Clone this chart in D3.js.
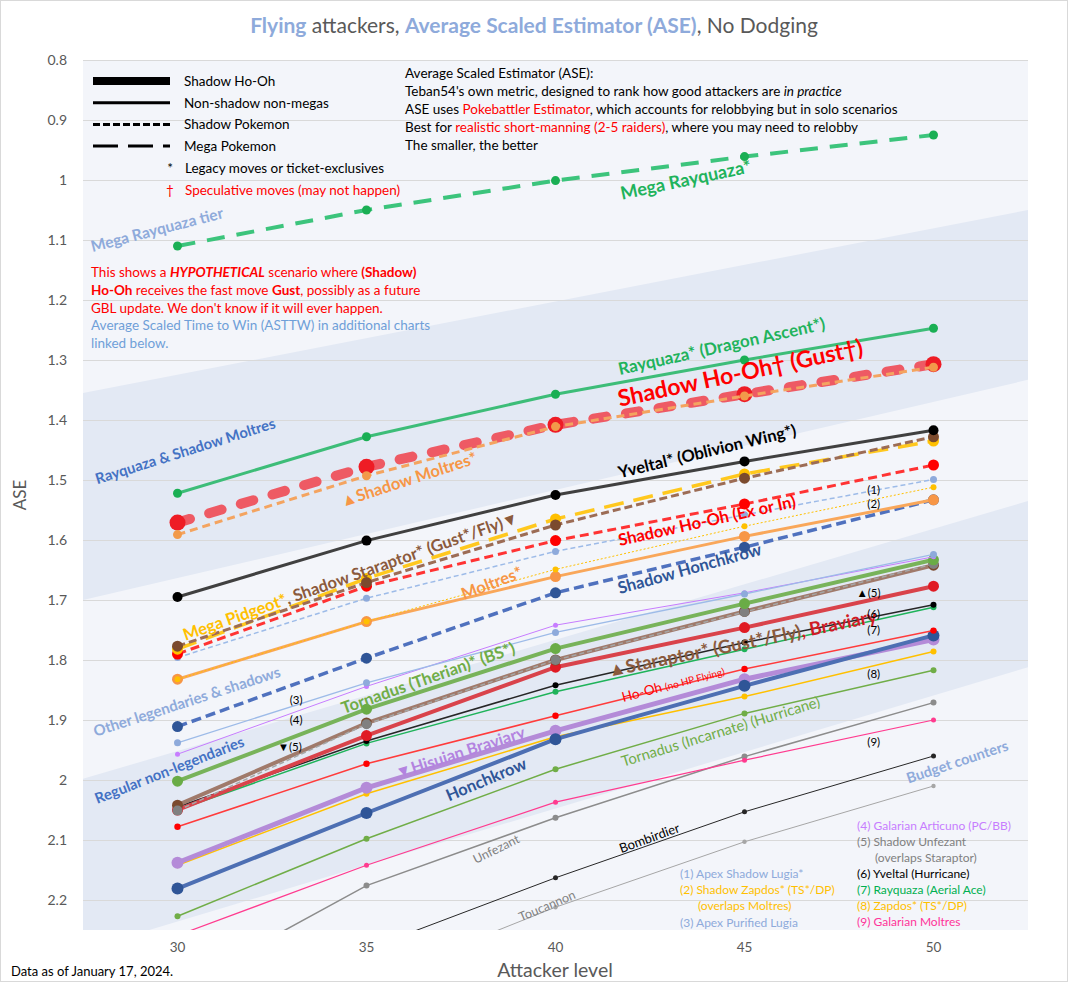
<!DOCTYPE html>
<html><head><meta charset="utf-8">
<script src="https://cdn.jsdelivr.net/npm/d3@7"></script>
<style>
body{margin:0;background:#fff}
svg{display:block;font-family:Lato,"Open Sans",sans-serif}
</style>
</head><body><div id="chart"></div>
<script>
// attacker levels on the x axis
const levels = [30, 35, 40, 45, 50];
const yTicks = [0.8,0.9,1,1.1,1.2,1.3,1.4,1.5,1.6,1.7,1.8,1.9,2,2.1,2.2];

// ASE per attacker at levels 30..50 (smaller is better)
const megaRayquaza      = [1.110, 1.050, 1.001, 0.961, 0.925];
const rayquazaDA        = [1.522, 1.428, 1.357, 1.300, 1.247];
const shadowHoOhGust    = [1.571, 1.478, 1.408, 1.357, 1.307];
const shadowMoltres     = [1.591, 1.493, 1.411, 1.360, 1.312];
const yveltalOW         = [1.695, 1.601, 1.525, 1.469, 1.417];
const megaPidgeot       = [1.782, 1.664, 1.565, 1.490, 1.435];
const shadowStaraptor   = [1.777, 1.671, 1.575, 1.497, 1.428];
const shadowHoOhExIn    = [1.790, 1.677, 1.601, 1.540, 1.475];
const apexShadowLugia   = [1.796, 1.697, 1.619, 1.558, 1.499];
const shadowZapdos      = [1.832, 1.736, 1.649, 1.577, 1.512];
const moltres           = [1.832, 1.736, 1.661, 1.594, 1.533];
const shadowHonchkrow   = [1.911, 1.797, 1.688, 1.612, 1.533];
const apexPurifiedLugia = [1.938, 1.838, 1.754, 1.690, 1.624];
const galarianArticuno  = [1.957, 1.844, 1.742, 1.688, 1.628];
const tornadusT         = [2.002, 1.882, 1.781, 1.706, 1.633];
const staraptor         = [2.042, 1.905, 1.800, 1.719, 1.642];
const shadowUnfezant    = [2.051, 1.907, 1.800, 1.720, 1.640];
const braviary          = [2.050, 1.926, 1.812, 1.746, 1.677];
const yveltalHurricane  = [2.045, 1.935, 1.842, 1.771, 1.708];
const rayquazaAA        = [2.050, 1.939, 1.853, 1.782, 1.712];
const hoOhNoHP          = [2.078, 1.973, 1.893, 1.815, 1.751];
const hisuianBraviary   = [2.138, 2.013, 1.918, 1.832, 1.766];
const zapdos            = [2.142, 2.023, 1.928, 1.861, 1.786];
const honchkrow         = [2.181, 2.055, 1.932, 1.843, 1.759];
const tornadusI         = [2.227, 2.098, 1.982, 1.889, 1.817];
const galarianMoltres   = [2.259, 2.142, 2.037, 1.967, 1.900];
const unfezant          = [2.348, 2.176, 2.063, 1.961, 1.871];
const bombirdier        = [2.400, 2.282, 2.163, 2.053, 1.960];
const toucannon         = [2.460, 2.338, 2.212, 2.103, 2.010];

// tier bands: edge values at the left and right of the plot
const bandLevels = [27.5, 52.5];
const upperBandTop = [1.355, 1.050];
const upperBandBottom = [1.700, 1.333];
const lowerBandTop = [1.998, 1.535];
const lowerBandBottom = [2.283, 1.812];

const W = 1068, H = 982;
const svg = d3.select("#chart").append("svg").attr("width", W).attr("height", H);
svg.append("rect").attr("x",0.5).attr("y",0.5).attr("width",W-1).attr("height",H-1)
  .attr("fill","#fff").attr("stroke","#d9d9d9");

const x = d3.scaleLinear().domain([27.5, 52.5]).range([83, 1028]);
const y = d3.scaleLinear().domain([0.8, 2.25]).range([60, 930]);

svg.append("defs").append("clipPath").attr("id","plot")
  .append("rect").attr("x",x(27.5)).attr("y",y(0.8)).attr("width",x(52.5)-x(27.5)).attr("height",y(2.25)-y(0.8));

const plot = svg.append("g").attr("clip-path","url(#plot)");
plot.append("rect").attr("x",x(27.5)).attr("y",y(0.8)).attr("width",x(52.5)-x(27.5)).attr("height",y(2.25)-y(0.8))
  .attr("fill","#f3f5fa");

function band(top, bottom){
  const pts = [[bandLevels[0],top[0]],[bandLevels[1],top[1]],[bandLevels[1],bottom[1]],[bandLevels[0],bottom[0]]];
  plot.append("path").attr("d", "M" + pts.map(p => x(p[0]) + "," + y(p[1])).join("L") + "Z").attr("fill","#e3e9f4");
}
band(upperBandTop, upperBandBottom);
band(lowerBandTop, lowerBandBottom);

// gridlines
plot.selectAll("line.grid").data(yTicks.concat([2.25])).enter().append("line")
  .attr("x1",x(27.5)).attr("x2",x(52.5)).attr("y1",d=>y(d)+0.5).attr("y2",d=>y(d)+0.5)
  .attr("stroke","#d9d9d9").attr("stroke-width",1);

// tick labels
svg.selectAll("text.yt").data(yTicks).enter().append("text")
  .attr("x",67).attr("y",d=>y(d)+5).attr("text-anchor","end")
  .attr("font-size",14).attr("fill","#595959").text(d=>+d.toFixed(1));
svg.selectAll("text.xt").data(levels).enter().append("text")
  .attr("x",d=>x(d)).attr("y",952).attr("text-anchor","middle")
  .attr("font-size",13.5).attr("fill","#595959").text(d=>d);

svg.append("text").attr("transform","translate(26,495) rotate(-90)").attr("text-anchor","middle")
  .attr("font-size",17).attr("fill","#595959").text("ASE");
svg.append("text").attr("x",555).attr("y",977).attr("text-anchor","middle")
  .attr("font-size",19.5).attr("fill","#595959").text("Attacker level");
svg.append("text").attr("x",11).attr("y",976).attr("font-size",13).attr("fill","#000")
  .text("Data as of January 17, 2024.");

// title
const title = svg.append("text").attr("x",534).attr("y",33).attr("text-anchor","middle").attr("font-size",21);
[["Flying","#8eaadb",700],[" attackers, ","#595959",400],["Average Scaled Estimator (ASE)","#8eaadb",700],[", No Dodging","#595959",400]]
  .forEach(p => title.append("tspan").attr("fill",p[1]).attr("font-weight",p[2]).text(p[0]));

// series, drawn back to front
const series = [
  {vals: toucannon, color:"#a6a6a6", w:1, r:2.2},
  {vals: bombirdier, color:"#262626", w:1, r:2.5},
  {vals: unfezant, color:"#8c8c8c", w:1.5, r:3},
  {vals: galarianMoltres, color:"#ff3b8f", w:1.2, r:2.5},
  {vals: tornadusI, color:"#70ad47", w:1.5, r:3},
  {vals: zapdos, color:"#ffc000", w:1.5, r:3},
  {vals: hisuianBraviary, color:"#b48bd8", w:5, r:6},
  {vals: honchkrow, color:"#4d6fb3", w:4, r:6, mcolor:"#2f5597"},
  {vals: hoOhNoHP, color:"#ff3b3b", w:1.5, r:3.2, mcolor:"#f00"},
  {vals: rayquazaAA, color:"#1fb35a", w:1.5, r:3},
  {vals: yveltalHurricane, color:"#262626", w:1.5, r:3, mcolor:"#000"},
  {vals: braviary, color:"#d9434b", w:4, r:5.5, mcolor:"#e01b24"},
  {vals: staraptor, color:"#a07a6b", w:4, r:5.5, mcolor:"#7b4a2e"},
  {vals: shadowUnfezant, color:"#a6a6a6", w:1.5, dash:"5,3", r:5, mcolor:"#808080"},
  {vals: tornadusT, color:"#78b35a", w:4, r:5.5, mcolor:"#6aac46"},
  {vals: galarianArticuno, color:"#c77dff", w:1, r:2.5},
  {vals: apexPurifiedLugia, color:"#9dbbe8", w:1.3, r:3.5, mcolor:"#8eaadb"},
  {vals: shadowHonchkrow, color:"#4f71be", w:3.5, dash:"10,5", r:5.5, mcolor:"#2f5597"},
  {vals: moltres, color:"#f9a75a", w:3, r:5.5, mcolor:"#f79646"},
  {vals: shadowZapdos, color:"#ffc000", w:1, dash:"2,2", r:3},
  {vals: apexShadowLugia, color:"#9dbbe8", w:1.5, dash:"5,3", r:3.5, mcolor:"#8eaadb"},
  {vals: shadowHoOhExIn, color:"#ff3333", w:3, dash:"9,5", r:5.5, mcolor:"#f00"},
  {vals: megaPidgeot, color:"#ffc81e", w:3.5, dash:"20,10", r:5.5, mcolor:"#ffc000"},
  {vals: shadowStaraptor, color:"#9c6c55", w:3, dash:"8,4", r:5.5, mcolor:"#7b4a2e"},
  {vals: yveltalOW, color:"#404040", w:3, r:5, mcolor:"#000"},
  {vals: shadowHoOhGust, color:"#ee5a64", w:10, dash:"13,20", cap:"round", r:8, mcolor:"#ee1c25"},
  {vals: shadowMoltres, color:"#f4a460", w:3, dash:"8,5", r:4.5, mcolor:"#f29a4a"},
  {vals: rayquazaDA, color:"#3dbd78", w:3, r:4.5, mcolor:"#1aaf54"},
  {vals: megaRayquaza, color:"#3cc47c", w:4, dash:"18,12", r:4.5, mcolor:"#1aaf54"}
];

const line = d3.line().x((d,i) => x(levels[i])).y(d => y(d));
series.forEach(s => {
  const g = plot.append("g");
  g.append("path").attr("d", line(s.vals)).attr("fill","none")
    .attr("stroke", s.color).attr("stroke-width", s.w)
    .attr("stroke-dasharray", s.dash || null).attr("stroke-linecap", s.cap || "butt");
  g.selectAll("circle").data(s.vals).enter().append("circle")
    .attr("cx",(d,i)=>x(levels[i])).attr("cy",d=>y(d)).attr("r", s.r)
    .attr("fill", s.mcolor || s.color);
});

// rotated annotations, anchored at (level, value)
const annotations = [
  {lv:27.75, v:1.120, a:-14.5, s:15.5, parts:[["Mega Rayquaza tier","#8eaadb",700]]},
  {lv:27.88, v:1.507, a:-17.5, s:14.8, parts:[["Rayquaza & Shadow Moltres","#4472c4",700]]},
  {lv:41.76, v:1.033, a:-12, s:18, parts:[["Mega Rayquaza*","#1fb35c",700]]},
  {lv:41.70, v:1.325, a:-12.5, s:17, parts:[["Rayquaza* (Dragon Ascent*)","#1fb35c",700]]},
  {lv:41.70, v:1.378, a:-12, s:23, parts:[["Shadow Ho-Oh† (Gust†)","#ff0000",700]]},
  {lv:34.37, v:1.545, a:-18, s:16.5, parts:[["▲Shadow Moltres*","#f79646",700]]},
  {lv:41.70, v:1.497, a:-13.5, s:16.5, parts:[["Yveltal* (Oblivion Wing*)","#000",700]]},
  {lv:30.21, v:1.768, a:-19.5, s:16.5, parts:[["Mega Pidgeot*","#ffc000",700],[", Shadow Staraptor* (Gust*/Fly)▼","#8b5a3c",700]]},
  {lv:41.70, v:1.610, a:-12.5, s:16.5, parts:[["Shadow Ho-Oh (Ex or In)","#ff0000",700]]},
  {lv:37.58, v:1.700, a:-21, s:16.5, parts:[["Moltres*","#f79646",700]]},
  {lv:41.70, v:1.690, a:-15.5, s:16.5, parts:[["Shadow Honchkrow","#2f5597",700]]},
  {lv:27.83, v:1.928, a:-18, s:15, parts:[["Other legendaries & shadows","#8eaadb",700]]},
  {lv:27.88, v:2.040, a:-21.5, s:14.8, parts:[["Regular non-legendaries","#4472c4",700]]},
  {lv:34.40, v:1.890, a:-19.5, s:16.5, parts:[["Tornadus (Therian)* (BS*)","#70ad47",700]]},
  {lv:41.42, v:1.828, a:-11.5, s:18.5, parts:[["▲Staraptor* (Gust*/Fly)","#8b5a3c",700],[", Braviary","#d01b25",700]]},
  {lv:41.79, v:1.870, a:-15, s:13.5, parts:[["Ho-Oh ","#ff0000",400],["(no HP Flying)","#ff0000",400,10]]},
  {lv:35.83, v:1.998, a:-18, s:16.3, parts:[["▼Hisuian Braviary","#b383e0",700]]},
  {lv:37.18, v:2.036, a:-23, s:16.5, parts:[["Honchkrow","#2f5597",700]]},
  {lv:41.79, v:1.978, a:-17, s:14.8, parts:[["Tornadus (Incarnate) (Hurricane)","#70ad47",400]]},
  {lv:37.89, v:2.140, a:-26, s:12.5, parts:[["Unfezant","#808080",400]]},
  {lv:41.74, v:2.122, a:-20, s:13, parts:[["Bombirdier","#000",400]]},
  {lv:39.09, v:2.236, a:-23, s:12.5, parts:[["Toucannon","#808080",400]]},
  {lv:49.34, v:2.006, a:-18.5, s:14.5, parts:[["Budget counters","#8eaadb",700]]},
  {lv:48.25, v:1.524, a:0, s:11.5, parts:[["(1)","#000",400]]},
  {lv:48.25, v:1.547, a:0, s:11.5, parts:[["(2)","#000",400]]},
  {lv:47.96, v:1.695, a:0, s:11.5, parts:[["▲(5)","#000",400]]},
  {lv:48.25, v:1.730, a:0, s:11.5, parts:[["(6)","#000",400]]},
  {lv:48.25, v:1.757, a:0, s:11.5, parts:[["(7)","#000",400]]},
  {lv:48.25, v:1.830, a:0, s:11.5, parts:[["(8)","#000",400]]},
  {lv:48.25, v:1.944, a:0, s:11.5, parts:[["(9)","#000",400]]},
  {lv:32.97, v:1.874, a:0, s:11.5, parts:[["(3)","#000",400]]},
  {lv:32.97, v:1.907, a:0, s:11.5, parts:[["(4)","#000",400]]},
  {lv:32.65, v:1.952, a:0, s:11.5, parts:[["▼(5)","#000",400]]}
];
annotations.forEach(an => {
  const t = svg.append("text").attr("font-size", an.s)
    .attr("transform", "translate(" + x(an.lv) + "," + y(an.v) + ") rotate(" + an.a + ")");
  an.parts.forEach(p => t.append("tspan").attr("fill",p[1]).attr("font-weight",p[2])
    .attr("font-size", p[3] || null).text(p[0]));
});

// top-left legend
const legend = [
  {label:"Shadow Ho-Oh", w:8},
  {label:"Non-shadow non-megas", w:3},
  {label:"Shadow Pokemon", w:3, dash:"7,3"},
  {label:"Mega Pokemon", w:3, dash:"25,10"}
];
legend.forEach((l,i) => {
  const ly = 81 + i*21.7;
  svg.append("line").attr("x1",93).attr("x2",170).attr("y1",ly).attr("y2",ly)
    .attr("stroke","#000").attr("stroke-width",l.w).attr("stroke-dasharray",l.dash||null);
  svg.append("text").attr("x",184).attr("y",ly+5).attr("font-size",13.5).attr("fill","#000").text(l.label);
});
svg.append("text").attr("x",170).attr("y",173).attr("font-size",13.5).attr("text-anchor","middle").text("*");
svg.append("text").attr("x",185).attr("y",173).attr("font-size",13.5).text("Legacy moves or ticket-exclusives");
svg.append("text").attr("x",170).attr("y",195).attr("font-size",13.5).attr("text-anchor","middle").attr("fill","#f00").text("†");
svg.append("text").attr("x",185).attr("y",195).attr("font-size",13.5).attr("fill","#f00").text("Speculative moves (may not happen)");

function richLines(x0, y0, dy, size, rows){
  rows.forEach((row,i) => {
    const t = svg.append("text").attr("x",x0 + (row.indent||0)).attr("y",y0+i*dy).attr("font-size",size);
    row.forEach(p => t.append("tspan").attr("fill",p[1]).attr("font-weight",p[2]||400)
      .attr("font-style",p[3]||null).text(p[0]));
  });
}
function indented(row){ row.indent = 18; return row; }

// metric description
richLines(405, 78, 18, 13.5, [
  [["Average Scaled Estimator (ASE):","#000"]],
  [["Teban54's own metric, designed to rank how good attackers are ","#000"],["in practice","#000",400,"italic"]],
  [["ASE uses ","#000"],["Pokebattler Estimator","#f00"],[", which accounts for relobbying but in solo scenarios","#000"]],
  [["Best for ","#000"],["realistic short-manning (2-5 raiders)","#f00"],[", where you may need to relobby","#000"]],
  [["The smaller, the better","#000"]]
]);

// hypothetical note
richLines(91, 277, 17.8, 13.5, [
  [["This shows a ","#f00"],["HYPOTHETICAL","#f00",700,"italic"],[" scenario where ","#f00"],["(Shadow)","#f00",700]],
  [["Ho-Oh","#f00",700],[" receives the fast move ","#f00"],["Gust","#f00",700],[", possibly as a future","#f00"]],
  [["GBL update. We don't know if it will ever happen.","#f00"]],
  [["Average Scaled Time to Win (ASTTW) in additional charts","#6f9fd8"]],
  [["linked below.","#6f9fd8"]]
]);

// footnote legend
richLines(680, 878, 16.2, 12, [
  [["(1) Apex Shadow Lugia*","#8eaadb"]],
  [["(2) Shadow Zapdos* (TS*/DP)","#ffc000"]],
  indented([["(overlaps Moltres)","#ffc000"]]),
  [["(3) Apex Purified Lugia","#8eaadb"]]
]);
richLines(857, 830, 16, 12, [
  [["(4) Galarian Articuno (PC/BB)","#c77dff"]],
  [["(5) Shadow Unfezant","#808080"]],
  indented([["(overlaps Staraptor)","#808080"]]),
  [["(6) Yveltal (Hurricane)","#000"]],
  [["(7) Rayquaza (Aerial Ace)","#00b050"]],
  [["(8) Zapdos* (TS*/DP)","#ffc000"]],
  [["(9) Galarian Moltres","#ff3399"]]
]);
</script>
</body></html>
